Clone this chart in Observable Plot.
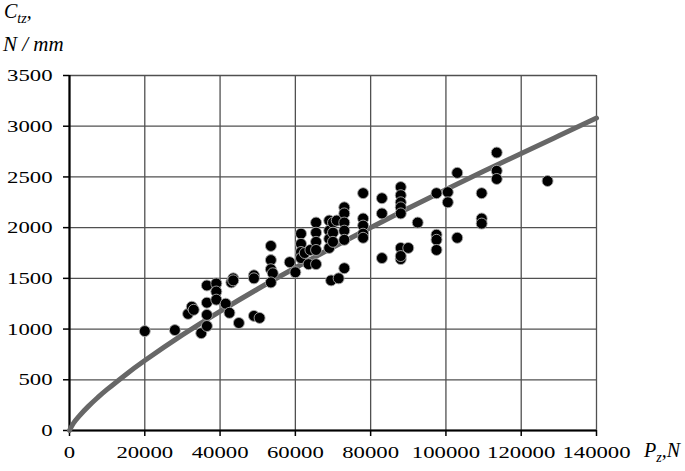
<!DOCTYPE html>
<html>
<head>
<meta charset="utf-8">
<script src="https://cdn.jsdelivr.net/npm/d3@7"></script>
<script src="https://cdn.jsdelivr.net/npm/@observablehq/plot@0.6"></script>
<style>
  html, body { margin: 0; padding: 0; background: #fff; }
  #chart { width: 685px; height: 471px; }
</style>
</head>
<body>
<div id="chart"></div>
<script>
// Measured points: Pz (N) and Ctz (N/mm)
const pz = [20000, 28000, 35000, 36500, 36500, 36500, 36500, 39000, 39000, 39000, 41500, 42500, 45000,
  31500, 32500, 33000, 43000, 43500, 43500, 49000, 49000, 49000, 50500,
  53500, 53500, 53500, 54000, 53500, 58500, 60000,
  61500, 61500, 61500, 61500, 62500, 64000, 63500,
  65500, 65500, 65500, 65500, 65500,
  69000, 69000, 69000, 69000, 70000, 70000, 70000, 71000, 69500, 71500,
  73000, 73000, 73000, 73000, 73000, 73000,
  78000, 78000, 78000, 78000, 78000,
  83000, 83000, 83000,
  88000, 88000, 88000, 88000, 88000, 88000, 88000, 88000, 90000, 92500,
  97500, 97500, 97500, 97500, 100500, 100500, 103000, 103000,
  109500, 109500, 109500, 113500, 113500, 113500, 127000];
const ctz = [980, 990, 960, 1030, 1140, 1260, 1430, 1450, 1370, 1290, 1250, 1160, 1060,
  1150, 1220, 1190, 1460, 1500, 1480, 1530, 1500, 1130, 1110,
  1820, 1680, 1590, 1550, 1460, 1660, 1560,
  1940, 1840, 1760, 1700, 1750, 1780, 1640,
  2050, 1950, 1860, 1780, 1640,
  2070, 1970, 1890, 1800, 2050, 1950, 1860, 2070, 1480, 1500,
  2200, 2140, 2050, 1970, 1880, 1600,
  2340, 2090, 2020, 1940, 1900,
  2290, 2140, 1700,
  2400, 2320, 2250, 2200, 2140, 1800, 1690, 1720, 1800, 2050,
  2340, 1930, 1880, 1780, 2350, 2250, 2540, 1900,
  2340, 2090, 2040, 2740, 2560, 2480, 2460];

// Trend curve
const curveX = [0, 1000, 2500, 5000, 7500, 10000, 15000, 20000, 30000, 40000, 50000, 60000, 70000, 80000, 90000, 100000, 110000, 120000, 130000, 140000];
const curveY = [0, 69, 140, 238, 325, 405, 553, 690, 942, 1175, 1395, 1604, 1806, 2000, 2191, 2375, 2556, 2732, 2906, 3080];

const xTicks = [0, 20000, 40000, 60000, 80000, 100000, 120000, 140000];
const yTicks = [0, 500, 1000, 1500, 2000, 2500, 3000, 3500];

const points = pz.map((x, i) => ({x, y: ctz[i]}));
const curve = curveX.map((x, i) => ({x, y: curveY[i]}));

const svg = Plot.plot({
  width: 685,
  height: 471,
  marginLeft: 69,
  marginRight: 89,
  marginTop: 75,
  marginBottom: 41,
  style: { fontFamily: "'Liberation Serif', serif", fontSize: "17.5px", background: "#fff", color: "#000", overflow: "visible" },
  x: { domain: [0, 140000] },
  y: { domain: [0, 3500] },
  marks: [
    Plot.gridX(xTicks, { stroke: "#505050", strokeOpacity: 1, strokeWidth: 1.3 }),
    Plot.gridY(yTicks, { stroke: "#505050", strokeOpacity: 1, strokeWidth: 1.3 }),
    Plot.axisX(xTicks, { tickSize: 6, tickPadding: 9, tickFormat: d => String(d), label: null, stroke: "#000", strokeWidth: 1.5 }),
    Plot.axisY(yTicks, { tickSize: 6, tickPadding: 11, tickFormat: d => String(d), label: null, stroke: "#000", strokeWidth: 1.5 }),
    Plot.ruleX([0], { stroke: "#000", strokeWidth: 2.2 }),
    Plot.ruleY([0], { stroke: "#000", strokeWidth: 2.2 }),
    Plot.line(curve, { x: "x", y: "y", stroke: "#676767", strokeWidth: 5, curve: "natural" }),
    Plot.dot(points, { x: "x", y: "y", r: 5.5, fill: "#000", stroke: "#a8a8a8", strokeWidth: 0.9 })
  ]
});

document.getElementById("chart").appendChild(svg);

// Widen the tick labels like in the reference
d3.select(svg)
  .selectAll('g[aria-label="y-axis tick label"] text, g[aria-label="x-axis tick label"] text')
  .each(function () {
    const t = this.getAttribute("transform") || "";
    const x = +(this.getAttribute("x") || 0);
    this.setAttribute("transform", `${t} translate(${x},0) scale(1.3,1) translate(${-x},0)`);
  });

// Axis titles
const s = d3.select(svg);
const yt1 = s.append("text").attr("x", 4).attr("y", 18).attr("text-anchor", "start")
  .attr("font-family", "'Liberation Serif', serif").attr("font-style", "italic").attr("font-size", 20).attr("fill", "#000");
yt1.append("tspan").text("C");
yt1.append("tspan").attr("dy", 5).attr("font-size", 14).text("tz");
yt1.append("tspan").attr("dy", -5).text(",");

s.append("text").attr("x", 3).attr("y", 51).attr("text-anchor", "start")
  .attr("font-family", "'Liberation Serif', serif").attr("font-style", "italic").attr("font-size", 21).attr("fill", "#000")
  .text("N / mm");

const xt = s.append("text").attr("x", 644).attr("y", 457).attr("text-anchor", "start")
  .attr("font-family", "'Liberation Serif', serif").attr("font-style", "italic").attr("font-size", 20).attr("fill", "#000");
xt.append("tspan").text("P");
xt.append("tspan").attr("dy", 5).attr("font-size", 14).text("z");
xt.append("tspan").attr("dy", -5).text(",N");
</script>
</body>
</html>
